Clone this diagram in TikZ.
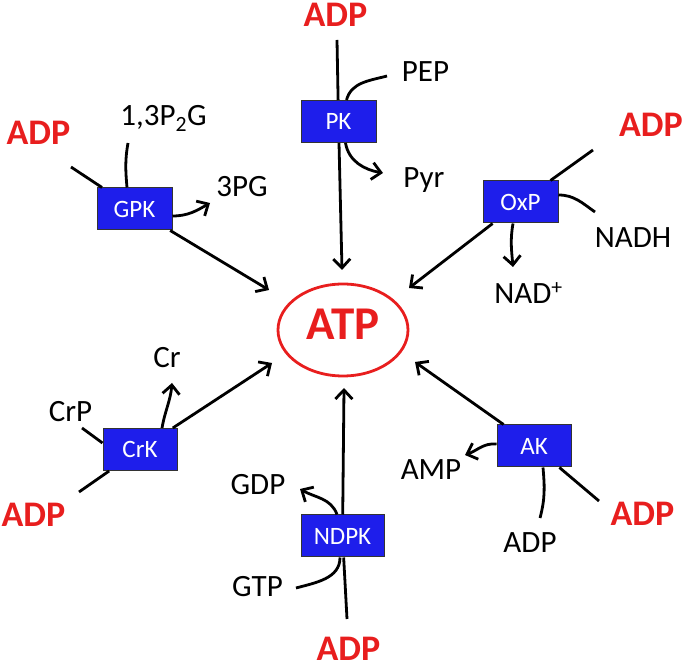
\documentclass[tikz,border=0pt]{standalone}
\usepackage{fontspec}
\setmainfont{Carlito}
\usetikzlibrary{arrows.meta,shapes.geometric,calc}
\definecolor{adpred}{RGB}{232,30,30}
\definecolor{enzblue}{RGB}{30,30,235}
\begin{document}
\begin{tikzpicture}[x=1pt,y=1pt,
  enz/.style={draw=black!80, line width=1pt, fill=enzblue, text=white, font=\fontsize{25}{25}\selectfont, minimum height=42pt, inner sep=0pt},
  lbl/.style={font=\fontsize{31}{31}\selectfont, anchor=base, inner sep=0pt},
  radp/.style={font=\bfseries\fontsize{36}{36}\selectfont, text=adpred, anchor=base, inner sep=0pt},
  link/.style={line width=2.8pt},
  arr/.style={line width=2.8pt, -{Straight Barb[length=9pt,width=17pt]}},
]
\useasboundingbox (0,0) rectangle (685,669);

% enzymes
\node[enz, minimum width=75pt] (pk) at (338.5,547.5) {PK};
\node[enz, minimum width=75pt] (gpk) at (134.5,460) {GPK};
\node[enz, minimum width=75pt] (oxp) at (520.5,467) {OxP};
\node[enz, minimum width=74pt] (crk) at (140,219.5) {CrK};
\node[enz, minimum width=83pt] (ndpk) at (342.5,133) {NDPK};
\node[enz, minimum width=74pt] (ak) at (534,223) {AK};
\node[draw=adpred, line width=2.8pt, ellipse, minimum width=130pt, minimum height=92pt, text=adpred, font=\bfseries\fontsize{47}{47}\selectfont, inner sep=0pt, text height=30pt, text depth=10pt] (atp) at (343,339) {ATP};

% labels
\node[radp] (adp1) at (335.5,642) {ADP};
\node[lbl] (pep) at (425.5,587) {PEP};
\node[lbl] (pyr) at (424,481) {Pyr};
\node[radp] (adp2) at (38.5,524) {ADP};
\node[lbl] (bpg) at (163.5,543) {1,3P\textsubscript{2}G};
\node[lbl] (pg3) at (242,472) {3PG};
\node[radp] (adp3) at (651,532) {ADP};
\node[lbl] (nadh) at (633,421) {NADH};
\node[lbl] (nad) at (528.5,365) {NAD\textsuperscript{+}};
\node[radp] (adp4) at (33.5,142) {ADP};
\node[lbl] (crp) at (70.5,247) {CrP};
\node[lbl] (cr) at (167,301) {Cr};
\node[radp] (adp5) at (348.5,9) {ADP};
\node[lbl] (gdp) at (258,174) {GDP};
\node[lbl] (gtp) at (257.5,72) {GTP};
\node[radp] (adp6) at (642.5,143) {ADP};
\node[lbl] (amp) at (431,189) {AMP};
\node[lbl] (adpk) at (530,116) {ADP};

% free ends
\coordinate (s1) at (337,629); \coordinate (t1) at (342,399);
\coordinate (s2) at (71,502);  \coordinate (t2) at (269,379);
\coordinate (s3) at (593,519); \coordinate (t3) at (409,381);
\coordinate (s4) at (79,177);  \coordinate (t4) at (272,306);
\coordinate (s5) at (347,50);  \coordinate (t5) at (344,281);
\coordinate (s6) at (599,168); \coordinate (t6) at (415,307);

% main ADP -> ATP lines
\draw[link] (s1) -- (pk);   \draw[arr] (pk) -- (t1);
\draw[link] (s2) -- (gpk);  \draw[arr] (gpk) -- (t2);
\draw[link] (s3) -- (oxp);  \draw[arr] (oxp) -- (t3);
\draw[link] (s4) -- (crk);  \draw[arr] (crk) -- (t4);
\draw[link] (s5) -- (ndpk); \draw[arr] (ndpk) -- (t5);
\draw[link] (s6) -- (ak);   \draw[arr] (ak) -- (t6);

% side reactions
\coordinate (pepe) at (387,593);
\draw[link] ($(pk.north)+(8,0)$) to[out=75,in=195] (pepe);
\coordinate (pyrt) at (383,496);
\draw[arr] ($(pk.south)+(7,0)$) to[out=-80,in=170] (pyrt);

\coordinate (bpge) at (128,526);
\draw[link] (bpge) to[out=-100,in=95] ($(gpk.north)+(-7.5,0)$);
\coordinate (pg3t) at (210,466);
\draw[arr] ($(gpk.east)+(0,-7)$) to[out=0,in=210] (pg3t);

\coordinate (nadhe) at (595,457);
\draw[link] ($(oxp.east)+(0,7)$) to[out=0,in=145] (nadhe);
\coordinate (nadt) at (513,402);
\draw[arr] ($(oxp.south)+(-7.5,0)$) to[out=-100,in=95] (nadt);

\coordinate (crpe) at (82,241);
\draw[link] (crpe) -- ($(crk.west)+(0,6.5)$);
\coordinate (crt) at (172,286);
\draw[arr] ($(crk.north)+(22,0)$) to[out=80,in=-95] (crt);

\coordinate (gdpt) at (300,180);
\draw[arr] ($(ndpk.north)+(-5.5,0)$) to[out=110,in=-30] (gdpt);
\coordinate (gtpe) at (296,81);
\draw[link] (gtpe) to[out=15,in=-90] ($(ndpk.south)+(-2.5,0)$);

\coordinate (ampt) at (465,214);
\draw[arr] ($(ak.west)+(0,2)$) to[out=175,in=20] (ampt);
\coordinate (adpke) at (540,151);
\draw[link] (adpke) to[out=75,in=-85] ($(ak.south)+(9,0)$);
\end{tikzpicture}
\end{document}
